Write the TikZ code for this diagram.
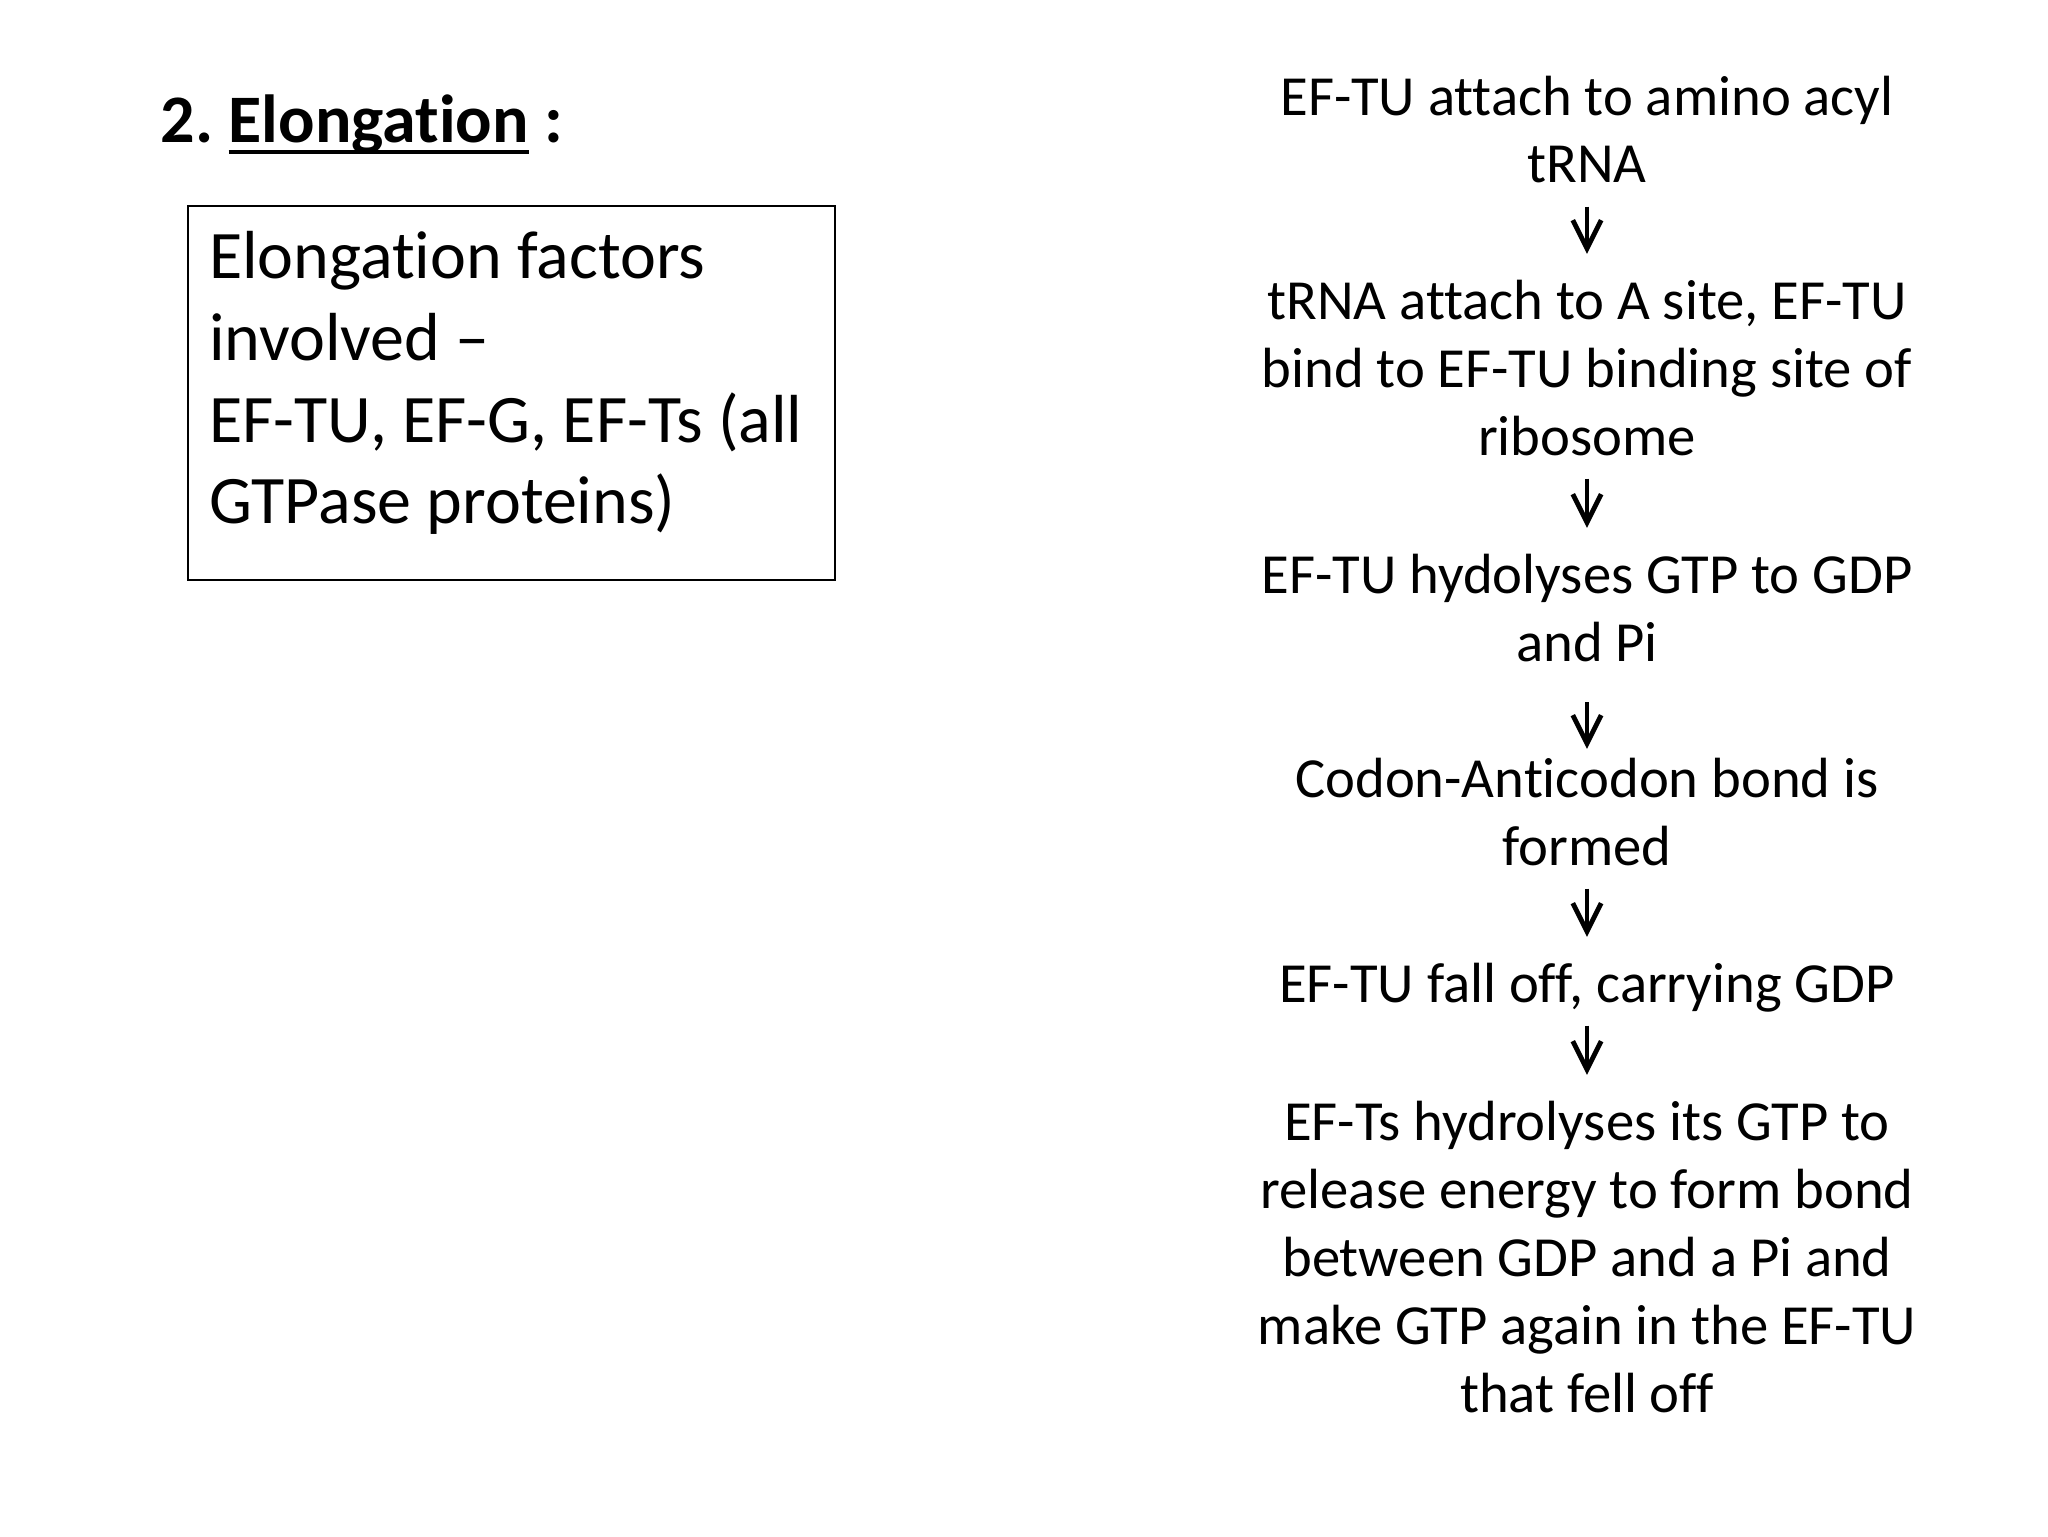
\documentclass[tikz,border=0pt]{standalone}
\usepackage{fontspec}
\setmainfont{Carlito}[Ligatures={NoCommon}]
\usetikzlibrary{arrows.meta}
\frenchspacing

\newcommand\ulword[1]{\setbox0\hbox{#1}\rlap{\rule[-3.9pt]{\wd0}{1.4pt}}\box0\relax}

\tikzset{
	stepbox/.style={anchor=base, align=center, inner sep=0, font=\fontsize{20}{24}\selectfont},
	flow/.style={-{Straight Barb[length=10pt,width=10pt,line width=1.7pt]}, line width=1.4pt, shorten <=0.9pt, shorten >=6pt}
}

\begin{document}
\begin{tikzpicture}[x=0.0124023cm, y=-0.0124023cm]
	\useasboundingbox (0,0) rectangle (2048,1536);
	% heading
	\node (title) [anchor=base west, inner sep=0, font=\fontsize{24}{28.8}\selectfont\bfseries] at (160,143) {2. \ulword{Elongation} :};
	\node (factors) [draw, line width=0.8pt, anchor=north west, inner xsep=7.4pt, text width=213.4pt, minimum height=131.9pt, align=flush left, font=\fontsize{24}{28.8}\selectfont] at (187,205)
	{\strut Elongation factors\\involved –\\EF-TU, EF-G, EF-Ts (all\\GTPase proteins)\rule[-14.3pt]{0pt}{14.3pt}};
	% steps (placed at the baseline of their last line)
	\node (s1) [stepbox] at (1587,183) {\strut EF-TU attach to amino acyl\\tRNA\strut};
	\node (s2) [stepbox] at (1587,455) {\strut tRNA attach to A site, EF-TU\\bind to EF-TU binding site of\\ribosome\strut};
	\node (s3) [stepbox] at (1587,661) {\strut EF-TU hydolyses GTP to GDP\\and Pi\strut};
	\node (s4) [stepbox] at (1587,865) {\strut Codon-Anticodon bond is\\formed\strut};
	\node (s5) [stepbox] at (1587,1002) {\strut EF-TU fall off, carrying GDP\strut};
	\node (s6) [stepbox] at (1587,1412) {\strut EF-Ts hydrolyses its GTP to\\release energy to form bond\\between GDP and a Pi and\\make GTP again in the EF-TU\\that fell off\strut};
	% arrows
	\draw[flow] (s1) -- (s2);
	\draw[flow] (s2) -- (s3);
	\draw[flow, shorten <=7.2pt, shorten >=0pt] (s3) -- (s4);
	\draw[flow] (s4) -- (s5);
	\draw[flow] (s5) -- (s6);
\end{tikzpicture}
\end{document}
